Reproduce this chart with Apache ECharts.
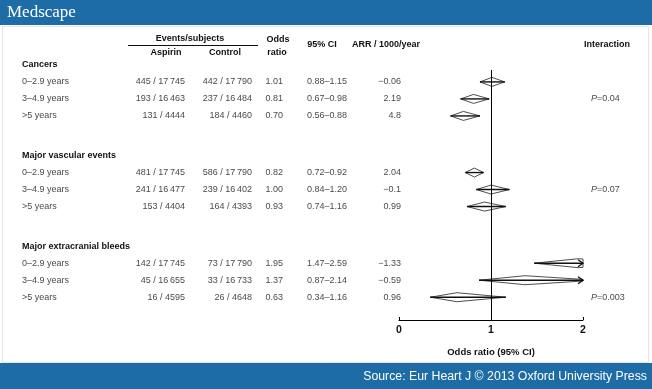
<!DOCTYPE html>
<html><head><meta charset="utf-8">
<script src="https://cdn.jsdelivr.net/npm/echarts@6/dist/echarts.min.js"></script>
<style>html,body{margin:0;padding:0;background:#fff}#c{width:652px;height:389px}</style>
</head><body><div id="c"></div>
<script>
// ---- data ----
const groups = ['Cancers', 'Major vascular events', 'Major extracranial bleeds'];
const periods = ['0\u20132.9 years', '3\u20134.9 years', '>5 years'];
const aspirin = ['445 / 17\u2009745', '193 / 16\u2009463', '131 / 4444',
                 '481 / 17\u2009745', '241 / 16\u2009477', '153 / 4404',
                 '142 / 17\u2009745', '45 / 16\u2009655', '16 / 4595'];
const control = ['442 / 17\u2009790', '237 / 16\u2009484', '184 / 4460',
                 '586 / 17\u2009790', '239 / 16\u2009402', '164 / 4393',
                 '73 / 17\u2009790', '33 / 16\u2009733', '26 / 4648'];
const oddsRatio = [1.01, 0.81, 0.70, 0.82, 1.00, 0.93, 1.95, 1.37, 0.63];
const ciLow = [0.88, 0.67, 0.56, 0.72, 0.84, 0.74, 1.47, 0.87, 0.34];
const ciHigh = [1.15, 0.98, 0.88, 0.92, 1.20, 1.16, 2.59, 2.14, 1.16];
const arr = ['\u22120.06', '2.19', '4.8', '2.04', '\u22120.1', '0.99', '\u22121.33', '\u22120.59', '0.96'];
const interactionP = ['0.04', '0.07', '0.003'];
const interactionRow = [1, 1, 2];
const xTickValues = [0, 1, 2];

// ---- layout ----
const GROUP_STEP = 5.33;
const AX_MIN = xTickValues[0], AX_MAX = xTickValues[xTickValues.length - 1];
const FONT = 'Liberation Sans, Arial, sans-serif';
const TXT = '#4a4a4a', BOLD = '#111';
const BLUE = '#1d6ca5';
function yVal(g, r) { return g * GROUP_STEP + r; }

// table rows
const rows = [];
groups.forEach((gname, g) => {
  rows.push({ kind: 'h', g: g, y: yVal(g, -1) });
  periods.forEach((p, r) => {
    rows.push({ kind: 'r', g: g, r: r, i: g * 3 + r, y: yVal(g, r) });
  });
});

const forestData = oddsRatio.map((or, i) => [or, ciLow[i], ciHigh[i], yVal(Math.floor(i / 3), i % 3)]);

function txt(text, x, y, align, opts) {
  return {
    type: 'text',
    style: Object.assign({ text: text, x: x, y: y, align: align, verticalAlign: 'middle',
      fill: TXT, font: '9px ' + FONT }, opts || {})
  };
}

const chart = echarts.init(document.getElementById('c'), null, { renderer: 'canvas' });
chart.setOption({
  animation: false,
  backgroundColor: '#fff',
  grid: { left: 399, right: 69, top: 70, bottom: 69 },
  xAxis: {
    type: 'value', min: AX_MIN, max: AX_MAX, interval: 1, position: 'bottom',
    axisLine: { onZero: false, lineStyle: { color: '#000', width: 1 } },
    axisTick: { inside: true, length: 3, lineStyle: { color: '#000' } },
    axisLabel: { color: '#111', fontWeight: 'bold', fontSize: 10.5, fontFamily: FONT, margin: 5 },
    splitLine: { show: false },
    name: 'Odds ratio (95% CI)', nameLocation: 'middle', nameGap: 27,
    nameTextStyle: { color: '#111', fontWeight: 'bold', fontSize: 9.5, fontFamily: FONT }
  },
  yAxis: { type: 'value', inverse: true, min: -0.7, max: 14, show: false },
  graphic: [
    { type: 'rect', shape: { x: 2.5, y: 26.5, width: 646, height: 336 }, style: { fill: 'none', stroke: '#e2e6ea', lineWidth: 1 } },
    { type: 'rect', shape: { x: 0, y: 0, width: 652, height: 25 }, style: { fill: BLUE } },
    { type: 'text', style: { text: 'Medscape', x: 7, y: 13, verticalAlign: 'middle', fill: '#fff', font: '17px Liberation Serif, serif' } },
    { type: 'rect', shape: { x: 0, y: 363, width: 652, height: 26 }, style: { fill: BLUE } },
    { type: 'text', style: { text: 'Source: Eur Heart J \u00a9 2013 Oxford University Press', x: 647, y: 377, align: 'right', verticalAlign: 'middle', fill: '#fff', font: '12.3px ' + FONT } },
    txt('Events/subjects', 190, 39, 'center', { font: 'bold 9px ' + FONT, fill: BOLD }),
    { type: 'line', shape: { x1: 128, y1: 45.5, x2: 258, y2: 45.5 }, style: { stroke: '#111', lineWidth: 1 } },
    txt('Aspirin', 166, 53, 'center', { font: 'bold 9px ' + FONT, fill: BOLD }),
    txt('Control', 225, 53, 'center', { font: 'bold 9px ' + FONT, fill: BOLD }),
    txt('Odds', 278, 40, 'center', { font: 'bold 9px ' + FONT, fill: BOLD }),
    txt('ratio', 277, 53, 'center', { font: 'bold 9px ' + FONT, fill: BOLD }),
    txt('95% CI', 322, 45, 'center', { font: 'bold 9px ' + FONT, fill: BOLD }),
    txt('ARR / 1000/year', 386, 45, 'center', { font: 'bold 9px ' + FONT, fill: BOLD }),
    txt('Interaction', 607, 45, 'center', { font: 'bold 9px ' + FONT, fill: BOLD })
  ],
  series: [
    {
      type: 'custom',
      silent: true,
      data: rows.map(r => [AX_MIN, r.y]),
      encode: { x: 0, y: 1 },
      renderItem: function (params, api) {
        const row = rows[params.dataIndex];
        const y = api.coord([AX_MIN, api.value(1)])[1];
        const ch = [];
        if (row.kind === 'h') {
          ch.push(txt(groups[row.g], 22, y, 'left', { font: 'bold 9px ' + FONT, fill: BOLD }));
        } else {
          const i = row.i;
          ch.push(txt(periods[row.r], 22, y, 'left'));
          ch.push(txt(aspirin[i], 185, y, 'right'));
          ch.push(txt(control[i], 252, y, 'right'));
          ch.push(txt(oddsRatio[i].toFixed(2), 283, y, 'right'));
          ch.push(txt(ciLow[i].toFixed(2) + '\u2013' + ciHigh[i].toFixed(2), 307, y, 'left'));
          ch.push(txt(arr[i], 401, y, 'right'));
          if (interactionRow[row.g] === row.r) {
            ch.push({ type: 'text', style: { text: '{i|P}=' + interactionP[row.g], x: 591, y: y,
              align: 'left', verticalAlign: 'middle', fill: TXT, font: '9px ' + FONT,
              rich: { i: { fontStyle: 'italic', fontSize: 9, fontFamily: FONT, fill: TXT } } } });
          }
        }
        return { type: 'group', children: ch };
      },
      z: 5
    },
    {
      type: 'custom',
      silent: true,
      data: forestData,
      encode: { x: [0, 1, 2], y: 3 },
      renderItem: function (params, api) {
        const or = api.value(0), lo = api.value(1), hi = api.value(2), yv = api.value(3);
        const clipped = hi > AX_MAX;
        const hiC = Math.min(hi, AX_MAX);
        const pLo = api.coord([lo, yv]), pOr = api.coord([or, yv]), pHi = api.coord([hiC, yv]);
        const y = pOr[1], h = 4.5;
        let pts;
        if (clipped) {
          const e = h * (hi - AX_MAX) / (hi - or);
          pts = [[pLo[0], y], [pOr[0], y - h], [pHi[0], y - e], [pHi[0], y + e], [pOr[0], y + h]];
        } else {
          pts = [[pLo[0], y], [pOr[0], y - h], [pHi[0], y], [pOr[0], y + h]];
        }
        const ch = [
          { type: 'polygon', shape: { points: pts }, style: { fill: '#fff', stroke: '#222', lineWidth: 0.8 } },
          { type: 'line', shape: { x1: pLo[0], y1: y, x2: pHi[0], y2: y }, style: { stroke: '#111', lineWidth: 1.4 } }
        ];
        if (clipped) {
          ch.push({ type: 'polyline', shape: { points: [[pHi[0] - 5, y - 3.5], [pHi[0], y], [pHi[0] - 5, y + 3.5]] },
            style: { fill: 'none', stroke: '#111', lineWidth: 1.3 } });
        }
        return { type: 'group', children: ch };
      },
      markLine: {
        silent: true, symbol: 'none', label: { show: false },
        lineStyle: { color: '#000', width: 1, type: 'solid' },
        data: [{ xAxis: 1 }]
      },
      z: 4
    }
  ]
});
</script>
</body></html>
